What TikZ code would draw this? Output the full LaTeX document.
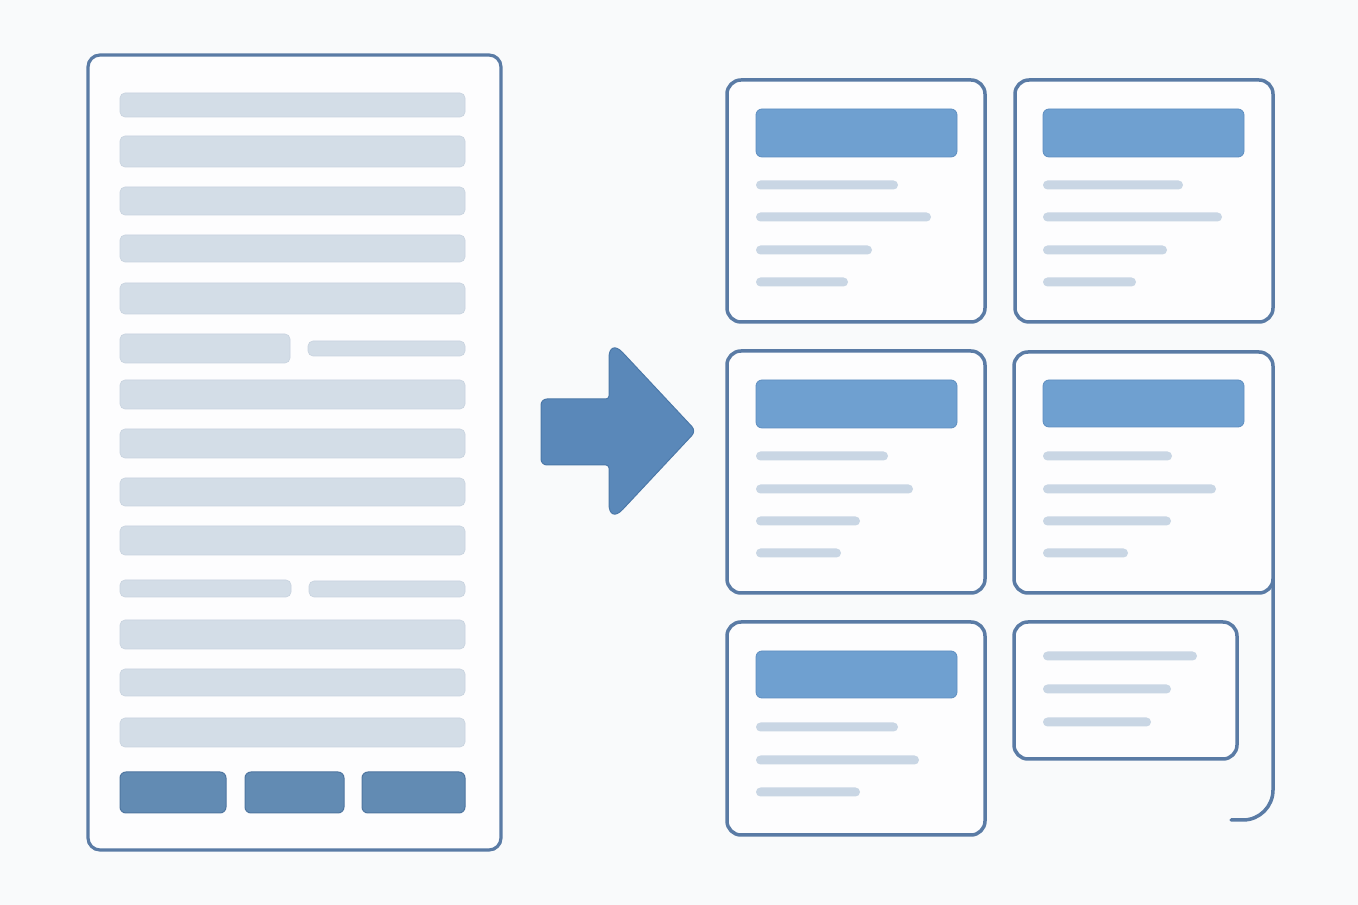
\documentclass[tikz,border=0pt]{standalone}
\definecolor{bg}{HTML}{F9FAFB}
\definecolor{frame}{HTML}{5A7BA5}
\definecolor{barfill}{HTML}{D3DDE7}
\definecolor{barline}{HTML}{C8D3DF}
\definecolor{btnfill}{HTML}{628BB3}
\definecolor{btnline}{HTML}{4F76A0}
\definecolor{arrowfill}{HTML}{5A88B9}
\definecolor{arrowline}{HTML}{4C78A8}
\definecolor{headfill}{HTML}{6FA0D0}
\definecolor{headline}{HTML}{5E8EC0}
\definecolor{linefill}{HTML}{C9D6E4}
\definecolor{cardfill}{HTML}{FDFDFE}
% box from pixel corners (x1,y1)-(x2,y2), y measured downward from the top
\newcommand\bx[6]{\node[#2, minimum width={((#5)-(#3))*1pt}, minimum height={((#6)-(#4))*1pt}] (#1) at ({((#3)+(#5))/2},{905-((#4)+(#6))/2}) {};}
\newcommand\tl[4]{\bx{#1}{tline}{#2}{#4-4.5}{#3}{#4+4.5}}
\begin{document}
\begin{tikzpicture}[x=1pt,y=1pt,
  every node/.style={inner sep=0pt, outer sep=0pt},
  panel/.style={draw=frame, line width=3.2pt, fill=cardfill, rounded corners=12pt, line join=round},
  card/.style={draw=frame, line width=3.5pt, fill=cardfill, rounded corners=14pt, line join=round},
  bar/.style={fill=barfill, draw=barline, line width=0.6pt, rounded corners=5pt},
  btn/.style={fill=btnfill, draw=btnline, line width=1pt, rounded corners=6pt},
  head/.style={fill=headfill, draw=headline, line width=0.8pt, rounded corners=6pt},
  tline/.style={fill=linefill, draw=none, rounded corners=4.5pt},
  arrowshape/.style={fill=arrowfill, draw=arrowline, line width=1pt, line join=round},
  conn/.style={draw=frame, line width=3.5pt, rounded corners=30pt, line cap=round, line join=round}
]
\fill[bg] (0,0) rectangle (1358,905);
\useasboundingbox (0,0) rectangle (1358,905);

% left page
\bx{page}{panel}{88}{55}{501}{850}
\bx{b1}{bar}{120}{93}{465}{117}
\bx{b2}{bar}{120}{136}{465}{167}
\bx{b3}{bar}{120}{187}{465}{215}
\bx{b4}{bar}{120}{235}{465}{262}
\bx{b5}{bar}{120}{283}{465}{314}
\bx{b6a}{bar}{120}{334}{290}{363}
\bx{b6b}{bar}{308}{341}{465}{356}
\bx{b7}{bar}{120}{380}{465}{409}
\bx{b8}{bar}{120}{429}{465}{458}
\bx{b9}{bar}{120}{478}{465}{506}
\bx{b10}{bar}{120}{526}{465}{555}
\bx{b11a}{bar}{120}{580}{291}{597}
\bx{b11b}{bar}{309}{581}{465}{597}
\bx{b12}{bar}{120}{620}{465}{649}
\bx{b13}{bar}{120}{669}{465}{696}
\bx{b14}{bar}{120}{718}{465}{747}
\bx{btn1}{btn}{120}{772}{226}{813}
\bx{btn2}{btn}{245}{772}{344}{813}
\bx{btn3}{btn}{362}{772}{465}{813}

% big arrow (y = 905 - pixel row)
\draw[arrowshape] (575,506)
  [rounded corners=6pt] -- (541,506) -- (541,440)
  [rounded corners=3pt] -- (609,440)
  [rounded corners=20pt] -- (609,381)
  [rounded corners=6pt] -- (696,474)
  [rounded corners=20pt] -- (609,567)
  [rounded corners=3pt] -- (609,506)
  [rounded corners=0pt] -- (575,506) -- cycle;

% card 1
\bx{c1}{card}{727}{80}{985}{322}
\bx{h1}{head}{756}{109}{957}{157}
\tl{c1l1}{756}{898}{185}
\tl{c1l2}{756}{931}{217}
\tl{c1l3}{756}{872}{250}
\tl{c1l4}{756}{848}{282}

% card 2
\bx{c2}{card}{1015}{80}{1273}{322}
\bx{h2}{head}{1043}{109}{1244}{157}
\tl{c2l1}{1043}{1183}{185}
\tl{c2l2}{1043}{1222}{217}
\tl{c2l3}{1043}{1167}{250}
\tl{c2l4}{1043}{1136}{282}

% card 3
\bx{c3}{card}{727}{351}{985}{593}
\bx{h3}{head}{756}{380}{957}{428}
\tl{c3l1}{756}{888}{456}
\tl{c3l2}{756}{913}{489}
\tl{c3l3}{756}{860}{521}
\tl{c3l4}{756}{841}{553}

% card 4
\bx{c4}{card}{1014}{352}{1273}{593}
\bx{h4}{head}{1043}{380}{1244}{427}
\tl{c4l1}{1043}{1172}{456}
\tl{c4l2}{1043}{1216}{489}
\tl{c4l3}{1043}{1171}{521}
\tl{c4l4}{1043}{1128}{553}

% card 5
\bx{c5}{card}{727}{622}{985}{835}
\bx{h5}{head}{756}{651}{957}{698}
\tl{c5l1}{756}{898}{727}
\tl{c5l2}{756}{919}{760}
\tl{c5l3}{756}{860}{792}

% card 6
\bx{c6}{card}{1014}{622}{1237}{759}
\tl{c6l1}{1043}{1197}{656}
\tl{c6l2}{1043}{1171}{689}
\tl{c6l3}{1043}{1151}{722}

% connector
\coordinate (tail) at (1231,85);
\coordinate (bend) at (1273,85);
\draw[conn] ([yshift=14pt]c4.south east) -- (bend) -- (tail);
\end{tikzpicture}
\end{document}
